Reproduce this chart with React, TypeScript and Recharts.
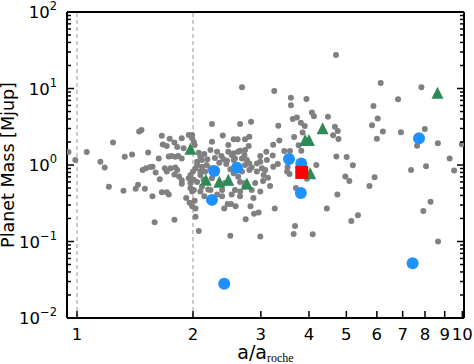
import React from 'react';
import { ScatterChart, Scatter, XAxis, YAxis, ReferenceLine, Label } from 'recharts';

const X_DOMAIN = [0.942, 10.1];
const Y_DOMAIN = [0.01, 100];

const xTicks = [1, 2, 3, 4, 5, 6, 7, 8, 9, 10];
const yMajorTicks = [0.01, 0.1, 1, 10, 100];
const yExponents = ['\u22122', '\u22121', '0', '1', '2'];
const yMinorTicks = [
  0.02, 0.03, 0.04, 0.05, 0.06, 0.07, 0.08, 0.09,
  0.2, 0.3, 0.4, 0.5, 0.6, 0.7, 0.8, 0.9,
  2, 3, 4, 5, 6, 7, 8, 9,
  20, 30, 40, 50, 60, 70, 80, 90,
];
const dashedX = [1, 2];

// [a/a_roche, planet mass]
const grayPoints: [number, number][] = [
  [0.95, 1.48], [0.99, 1.16], [1.06, 1.48], [1.15, 1.1], [1.18, 0.93], [1.21, 0.52], [1.24, 1.97], [1.32, 0.46], [1.33, 1.28], [1.39, 1.37],
  [1.42, 0.49], [1.44, 0.55], [1.45, 2.74], [1.47, 2.87], [1.48, 0.86], [1.5, 0.49], [1.53, 1.46], [1.51, 0.91], [1.55, 0.94], [1.57, 0.95],
  [1.57, 0.39], [1.6, 0.8], [1.59, 0.178], [1.63, 1.22], [1.64, 0.65],
  [1.66, 2.42], [1.67, 1.85], [1.71, 1.77], [1.74, 2.21], [1.79, 1.97], [1.82, 1.72], [1.87, 2.23], [1.89, 1.65], [1.83, 1.31], [1.73, 1.29],
  [1.76, 1.31], [1.8, 1.28], [1.87, 1.22], [1.69, 0.91], [1.71, 0.82], [1.75, 0.91], [1.8, 0.93], [1.82, 0.86], [1.79, 0.75], [1.84, 0.71],
  [1.87, 0.63], [1.87, 0.57], [1.66, 0.44], [1.71, 0.44], [1.73, 0.41], [1.79, 0.193], [1.92, 0.37], [1.95, 2.47], [1.99, 2.47], [1.97, 0.5],
  [1.99, 0.45], [1.95, 0.67], [1.97, 0.58], [1.96, 0.32], [1.99, 0.29], [1.97, 0.74], [1.99, 2.23],
  [2.01, 2.0], [2.02, 1.83], [2.07, 1.45], [2.05, 1.1], [2.09, 1.28], [2.11, 1.16], [2.05, 1.0], [2.11, 0.95], [2.03, 0.91], [2.0, 0.82],
  [2.09, 0.82], [2.15, 0.82], [2.01, 0.64], [2.05, 0.6], [2.09, 0.74], [2.13, 0.64], [2.11, 0.52], [2.01, 0.47], [2.09, 0.45], [2.02, 0.34],
  [2.14, 0.39], [2.03, 0.27], [2.03, 0.21], [2.07, 0.137], [2.14, 1.39], [2.18, 1.19], [2.17, 1.0], [2.22, 0.91], [2.19, 0.48], [2.22, 0.47],
  [2.24, 0.67], [2.22, 1.57], [2.24, 2.02], [2.24, 3.44], [2.28, 1.23], [2.31, 1.49], [2.37, 1.31], [2.39, 2.43], [2.4, 1.19], [2.45, 1.14],
  [2.34, 1.07], [2.44, 1.03], [2.47, 1.83], [2.47, 1.49], [2.31, 0.41], [2.38, 0.39], [2.38, 0.47], [2.42, 0.58], [2.41, 0.27], [2.46, 0.31], [2.5, 0.88],
  [2.51, 0.31], [2.5, 0.119], [2.52, 0.41], [2.52, 1.35], [2.55, 2.17], [2.61, 2.17], [2.55, 1.42], [2.55, 1.16], [2.55, 0.78], [2.57, 1.22],
  [2.57, 0.47], [2.58, 0.29], [2.62, 1.49], [2.62, 0.7], [2.65, 3.44], [2.65, 1.54], [2.65, 0.6], [2.65, 0.45], [2.65, 0.39], [2.68, 10.4],
  [2.68, 1.22], [2.68, 0.82], [2.72, 0.52], [2.73, 2.17], [2.73, 1.57], [2.73, 1.0], [2.72, 1.35], [2.73, 0.58], [2.74, 0.195], [2.76, 1.16],
  [2.79, 1.77], [2.8, 2.34], [2.8, 0.86], [2.8, 1.05], [2.82, 0.29], [2.83, 3.68], [2.84, 0.93], [2.84, 0.47], [2.87, 0.37], [2.88, 0.23],
  [2.9, 0.58], [2.93, 1.05], [2.93, 0.82], [2.96, 0.24], [2.99, 1.31], [2.99, 0.45], [2.99, 0.116], [2.99, 1.1], [3.02, 0.91],
  [3.04, 0.62], [3.05, 0.74], [3.08, 0.86], [3.11, 1.16], [3.1, 1.49], [3.13, 0.68], [3.17, 0.53], [3.23, 0.95], [3.22, 1.33], [3.23, 1.84],
  [3.25, 9.27], [3.26, 0.27], [3.32, 1.03], [3.33, 3.26], [3.35, 2.09], [3.45, 1.52], [3.52, 0.94], [3.51, 0.82], [3.56, 0.76], [3.57, 1.52],
  [3.59, 7.59], [3.59, 6.03], [3.63, 3.99], [3.72, 4.18], [3.66, 2.32], [3.68, 0.16], [3.65, 0.125], [3.7, 0.5], [3.76, 1.81], [3.82, 1.54],
  [3.81, 3.57], [3.85, 2.66], [3.9, 3.24], [3.94, 7.29], [3.95, 0.66], [4.07, 4.86], [4.12, 4.33], [4.09, 0.124], [4.18, 1.0],
  [4.48, 4.28], [4.45, 0.27], [4.67, 3.17], [4.75, 2.78], [4.62, 2.44], [4.77, 2.19], [4.7, 27.4], [4.71, 1.29], [4.74, 0.41], [4.97, 0.71],
  [5.09, 0.62], [5.01, 1.27], [5.15, 0.185], [5.2, 0.99], [5.36, 0.22], [5.74, 0.53], [5.92, 0.69], [5.83, 3.31], [5.88, 5.9], [6.03, 4.05],
  [6.0, 2.2], [6.14, 11.8], [6.22, 2.74], [6.81, 7.22], [6.93, 2.68], [7.36, 0.86], [7.63, 1.79], [7.83, 10.4], [7.92, 0.25], [7.99, 2.96],
  [8.05, 0.96], [8.27, 0.33], [8.64, 1.92], [8.65, 0.1], [9.27, 1.22], [9.52, 0.85], [9.97, 1.87],
];

const greenPoints: [number, number][] = [
  [1.97, 1.63], [2.16, 0.64], [2.34, 0.605], [2.47, 0.64], [2.76, 0.575],
  [3.91, 2.12], [4.0, 2.12], [4.34, 3.02], [4.03, 0.78], [8.62, 8.81],
];

const bluePoints: [number, number][] = [
  [2.24, 0.35], [2.27, 0.835], [2.6, 0.92], [2.41, 0.028], [3.55, 1.2],
  [3.82, 1.05], [3.81, 0.43], [7.72, 2.23], [7.43, 0.052],
];

const redPoints: [number, number][] = [[3.83, 0.8]];

const FONT = '"DejaVu Sans", sans-serif';
const toRows = (pts: [number, number][]) => pts.map(([x, y]) => ({ x, y }));

// ticks point inward, like matplotlib's direction='in'
function BottomTick({ x, y, payload }: any) {
  return (
    <g>
      <line x1={x} y1={y} x2={x} y2={y - 7} stroke="#000" strokeWidth={1.5} />
      <text x={x} y={y + 22} textAnchor="middle" fontSize={16.5} fontFamily={FONT} fill="#000">
        {payload.value}
      </text>
    </g>
  );
}

function TopTick({ x, y }: any) {
  return <line x1={x} y1={y} x2={x} y2={y + 7} stroke="#000" strokeWidth={1.5} />;
}

function LeftTick({ x, y, payload }: any) {
  const i = yMajorTicks.indexOf(payload.value);
  return (
    <g>
      <line x1={x} y1={y} x2={x + (i >= 0 ? 7 : 4)} y2={y} stroke="#000" strokeWidth={1.5} />
      {i >= 0 && (
        <text x={x - 10} y={y + 6} textAnchor="end" fontFamily={FONT} fill="#000">
          <tspan fontSize={16.5}>10</tspan>
          <tspan fontSize={11.5} dy={-8}>{yExponents[i]}</tspan>
        </text>
      )}
    </g>
  );
}

function RightTick({ x, y, payload }: any) {
  const len = yMajorTicks.indexOf(payload.value) >= 0 ? 7 : 4;
  return <line x1={x} y1={y} x2={x - len} y2={y} stroke="#000" strokeWidth={1.5} />;
}

function XLabel({ viewBox }: any) {
  const cx = viewBox.x + viewBox.width / 2;
  return (
    <text x={cx} y={viewBox.y + 41} textAnchor="middle" fill="#000">
      <tspan fontFamily={FONT} fontSize={19}>a/a</tspan>
      <tspan fontFamily='"Liberation Serif", serif' fontSize={12} dy={3}>roche</tspan>
    </text>
  );
}

function YLabel({ viewBox }: any) {
  const cy = viewBox.y + viewBox.height / 2;
  return (
    <text
      x={14}
      y={cy}
      transform={`rotate(-90 14 ${cy})`}
      textAnchor="middle"
      fontFamily={FONT}
      fontSize={17.5}
      fill="#000"
    >
      Planet Mass [Mjup]
    </text>
  );
}

const dot = (r: number, fill: string) => (p: any) => <circle cx={p.cx} cy={p.cy} r={r} fill={fill} />;
const triangle = (s: number, fill: string) => (p: any) => (
  <polygon
    points={`${p.cx},${p.cy - s} ${p.cx - s},${p.cy + s} ${p.cx + s},${p.cy + s}`}
    fill={fill}
  />
);
const square = (s: number, fill: string) => (p: any) => (
  <rect x={p.cx - s} y={p.cy - s} width={2 * s} height={2 * s} fill={fill} />
);

export default function App() {
  const axisLine = { stroke: '#000', strokeWidth: 2 };
  const yTicks = [...yMinorTicks, ...yMajorTicks];
  return (
    <div style={{ position: 'absolute', left: 0, top: 0, background: '#fff' }}>
      <ScatterChart width={474} height={364} margin={{ top: 11, right: 9, bottom: 0, left: 0 }}>
        <XAxis
          dataKey="x"
          type="number"
          scale="log"
          domain={X_DOMAIN}
          allowDataOverflow
          ticks={xTicks}
          interval={0}
          height={46}
          tickSize={0}
          tickMargin={0}
          tickLine={false}
          axisLine={axisLine}
          tick={<BottomTick />}
        >
          <Label content={<XLabel />} />
        </XAxis>
        {/* mirrored top axis: only the frame line and inward ticks */}
        <XAxis
          xAxisId="top"
          orientation="top"
          type="number"
          scale="log"
          domain={X_DOMAIN}
          allowDataOverflow
          ticks={xTicks}
          interval={0}
          height={1}
          tickSize={0}
          tickMargin={0}
          tickLine={false}
          axisLine={axisLine}
          tick={<TopTick />}
        />
        <YAxis
          dataKey="y"
          type="number"
          scale="log"
          domain={Y_DOMAIN}
          allowDataOverflow
          ticks={yTicks}
          interval={0}
          width={67}
          tickSize={0}
          tickMargin={0}
          tickLine={false}
          axisLine={axisLine}
          tick={<LeftTick />}
        >
          <Label content={<YLabel />} />
        </YAxis>
        <YAxis
          yAxisId="right"
          orientation="right"
          type="number"
          scale="log"
          domain={Y_DOMAIN}
          allowDataOverflow
          ticks={yTicks}
          interval={0}
          width={1}
          tickSize={0}
          tickMargin={0}
          tickLine={false}
          axisLine={axisLine}
          tick={<RightTick />}
        />
        {dashedX.map((v) => (
          <ReferenceLine key={v} x={v} stroke="#999" strokeWidth={1} strokeDasharray="4 3" />
        ))}
        <Scatter data={toRows(grayPoints)} fill="#808080" shape={dot(3, '#808080')} isAnimationActive={false} />
        <Scatter data={toRows(greenPoints)} fill="#2e8b57" shape={triangle(6, '#2e8b57')} isAnimationActive={false} />
        <Scatter data={toRows(bluePoints)} fill="#1e90ff" shape={dot(6, '#1e90ff')} isAnimationActive={false} />
        <Scatter data={toRows(redPoints)} fill="#ff0000" shape={square(6.5, '#ff0000')} isAnimationActive={false} />
      </ScatterChart>
    </div>
  );
}
